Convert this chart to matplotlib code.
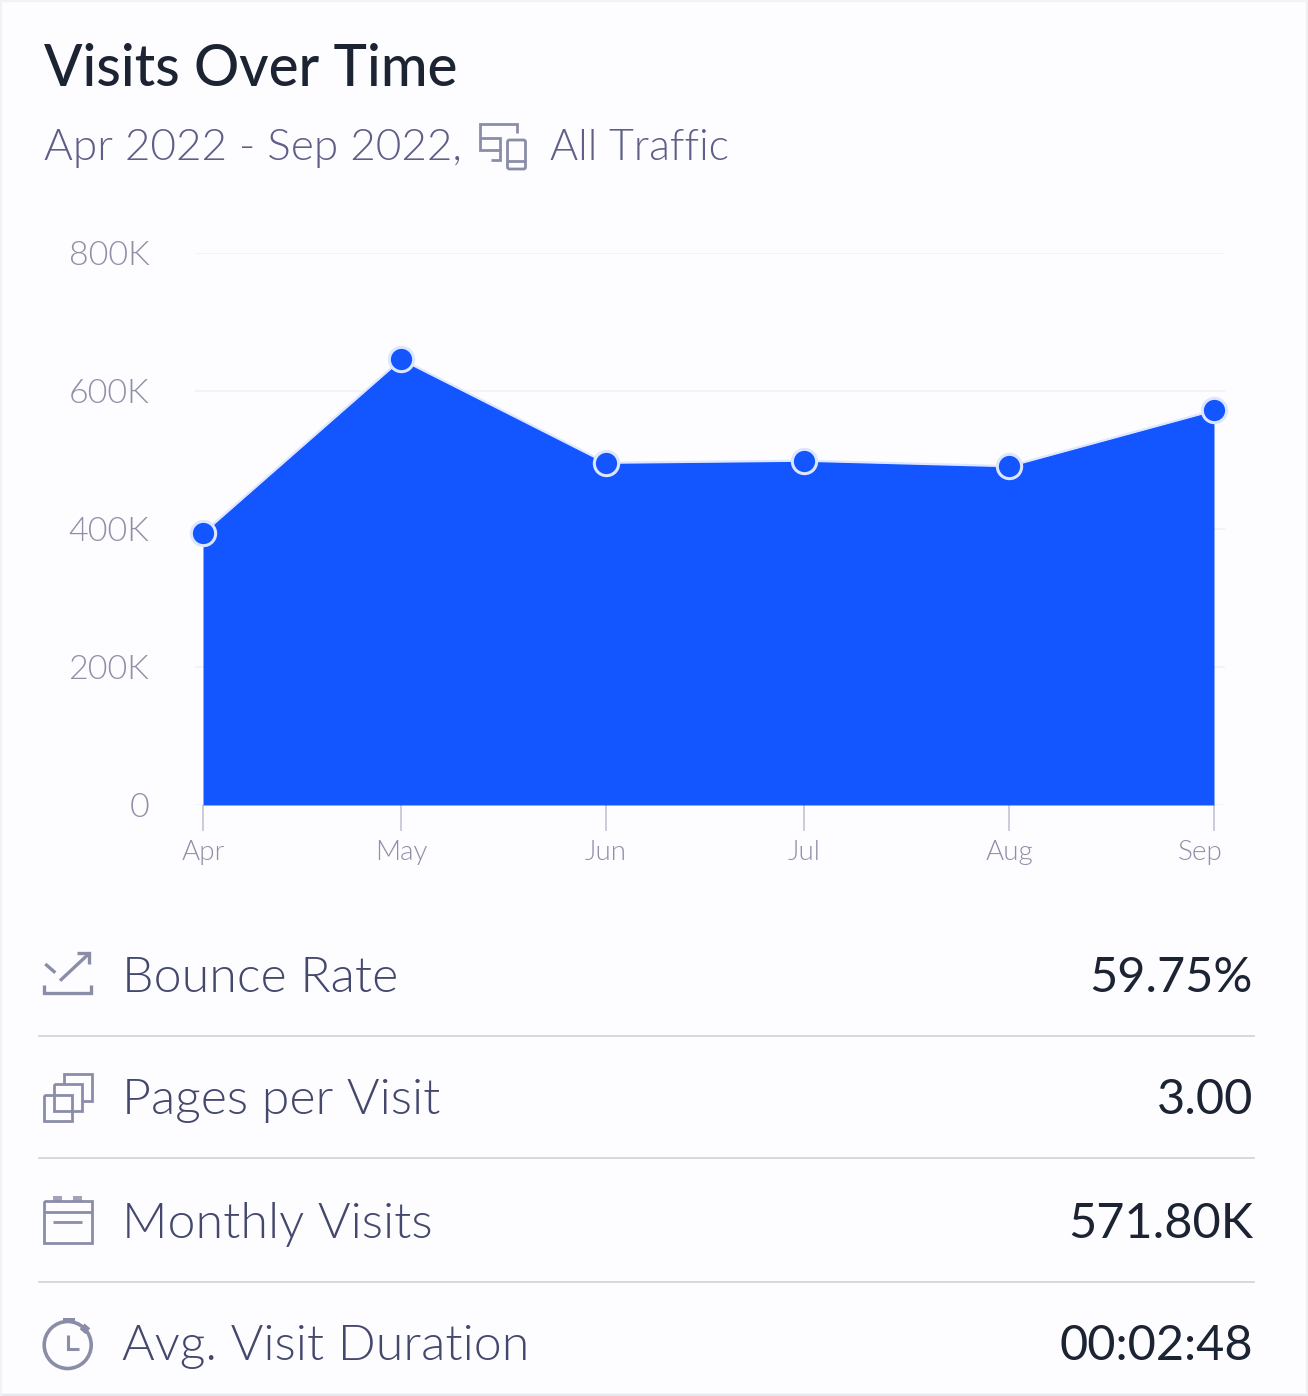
import matplotlib
matplotlib.use("Agg")
import matplotlib.pyplot as plt
import matplotlib.dates as mdates
from matplotlib.patches import Rectangle, Circle, FancyBboxPatch
from matplotlib.transforms import ScaledTranslation
from datetime import date

# ---------- data ----------
months = [date(2022, 4, 1), date(2022, 5, 1), date(2022, 6, 1),
          date(2022, 7, 1), date(2022, 8, 1), date(2022, 9, 1)]
month_labels = ["Apr", "May", "Jun", "Jul", "Aug", "Sep"]
visits = [394000, 646000, 496000, 499000, 491000, 572000]
y_ticks = [0, 200000, 400000, 600000, 800000]
y_labels = ["0", "200K", "400K", "600K", "800K"]
metric_names = ["Bounce Rate", "Pages per Visit", "Monthly Visits", "Avg. Visit Duration"]
metric_values = ["59.75%", "3.00", "571.80K", "00:02:48"]

# ---------- style ----------
W, H = 1308, 1396
BG = "#FDFDFF"
BLUE = "#1356FF"
DARK = "#1C2333"
SUB = "#5E5E88"
ROW = "#44486C"
AXIS = "#8F8FA8"
ICON = "#8A8DA8"
FONT = "Lato"
LIGHT = 300

fig = plt.figure(figsize=(W / 100, H / 100), dpi=100, facecolor=BG)


def px_rect(x0, y0, x1, y1):
    return [x0 / W, 1 - y1 / H, (x1 - x0) / W, (y1 - y0) / H]


# ---------- chart ----------
ax = fig.add_axes(px_rect(195, 253, 1225, 805))
ax.patch.set_alpha(0)
px_per_day = (1214 - 203) / 153
d0 = mdates.date2num(months[0])
ax.set_xlim(d0 - (203 - 195) / px_per_day, d0 + (1225 - 203) / px_per_day)
ax.set_ylim(0, 800000)
ax.set_yticks(y_ticks, y_labels)
ax.set_xticks(mdates.date2num(months), month_labels)
ax.grid(axis="y", color="#F1F2F6", lw=1.2, zorder=0)
for s in ax.spines.values():
    s.set_visible(False)
ax.tick_params(axis="y", length=0, pad=33, labelsize=24.5, labelcolor=AXIS)
ax.tick_params(axis="x", length=19, width=1.1, color="#BDBFD0", pad=6,
               labelsize=20, labelcolor=AXIS)
for lab in ax.get_xticklabels() + ax.get_yticklabels():
    lab.set_fontfamily(FONT)
    lab.set_fontweight(LIGHT)
last = ax.get_xticklabels()[-1]
last.set_transform(last.get_transform() + ScaledTranslation(-14 / 100, 0, fig.dpi_scale_trans))

x = mdates.date2num(months)
ax.fill_between(x, visits, 0, color=BLUE, lw=0, zorder=2)
ax.plot(x, visits, color="#DDE7FF", lw=1.6, zorder=3)
ax.plot(x, visits, ls="none", marker="o", ms=17.5, mfc=BLUE, mec="#DCE6FF", mew=2.2,
        zorder=4, clip_on=False)

# ---------- overlay in pixel coordinates ----------
ov = fig.add_axes([0, 0, 1, 1], zorder=5)
ov.set_xlim(0, W)
ov.set_ylim(H, 0)
ov.axis("off")
ov.patch.set_alpha(0)

# card edges
ov.plot([1306.5, 1306.5], [0, H], color="#EEEFF3", lw=2)
ov.plot([0, W], [1394.5, 1394.5], color="#E6E7EC", lw=2.5)
ov.plot([0.5, 0.5], [0, H], color="#F1F2F5", lw=1.5)
ov.plot([0, W], [0.5, 0.5], color="#F1F2F5", lw=1.5)

ov.text(44, 86, "Visits Over Time", fontsize=40.7, color=DARK, family=FONT,
        fontweight="medium", va="baseline")
ov.text(44, 160, "Apr 2022 - Sep 2022,", fontsize=31.8, color=SUB, family=FONT,
        fontweight=LIGHT, va="baseline")
ov.text(550, 160, "All Traffic", fontsize=31, color=SUB, family=FONT,
        fontweight=LIGHT, va="baseline")

row_base = [992, 1114, 1238, 1360]
for name, val, yb in zip(metric_names, metric_values, row_base):
    ov.text(122, yb, name, fontsize=36, color=ROW, family=FONT, fontweight=LIGHT, va="baseline")
    ov.text(1253, yb, val, fontsize=35, color=DARK, family=FONT, ha="right", va="baseline")
for ys in [1036, 1158, 1282]:
    ov.plot([39, 1254], [ys, ys], color="#CFD1D8", lw=1.2)


def line(xs, ys, lw=2.0, color=ICON):
    ov.plot(xs, ys, color=color, lw=lw, solid_capstyle="butt", solid_joinstyle="miter")


def box(x0, y0, x1, y1):
    line([x0, x1, x1, x0, x0], [y0, y0, y1, y1, y0])


# device icon
line([516.7, 516.7, 480, 480, 500, 500, 490.7], [133.3, 124, 124, 150, 150, 160, 160])
line([480, 500, 500], [138.3, 138.3, 150])
ov.add_patch(FancyBboxPatch((507.5, 140), 18, 29, boxstyle="round,pad=0,rounding_size=2",
                            fc="none", ec=ICON, lw=2.0))
line([507, 526], [161, 161])

# bounce icon
line([44, 44, 91, 91], [985, 993, 993, 985], lw=2.4)
line([60, 89], [980.7, 953.6], lw=2.4)
line([77.3, 89.3, 89.3], [953.3, 953.3, 964.3], lw=2.4)
line([45.3, 55.3], [964, 972.7], lw=2.4)

# pages icon
box(44, 1095, 71.7, 1120.7)
box(54.3, 1084.3, 81.7, 1110.7)
line([64.3, 64.3, 91.7, 91.7, 81.7], [1084.3, 1074.3, 1074.3, 1100.7, 1100.7])

# calendar icon
box(44, 1200.7, 91.7, 1242.7)
line([44, 91.7], [1211.7, 1211.7])
line([53.3, 82.3], [1222.3, 1222.3])
for tx in (53.3, 73.3):
    ov.add_patch(Rectangle((tx, 1196), 8.4, 4.7, fc=ICON, ec="none", alpha=0.8))

# clock icon
ov.add_patch(Circle((67.7, 1345), 23.5, fc="none", ec=ICON, lw=2.6))
line([67.7, 67.7, 79.3], [1335, 1349.3, 1349.3], lw=2.2)
ov.add_patch(Rectangle((63.3, 1317.5), 11.7, 4, fc=ICON, ec="none"))
ov.add_patch(Rectangle((84.5, 1323.5), 7.5, 7.5, angle=40, fc=ICON, ec="none"))

fig.savefig("out.png", dpi=100, facecolor=fig.get_facecolor())
